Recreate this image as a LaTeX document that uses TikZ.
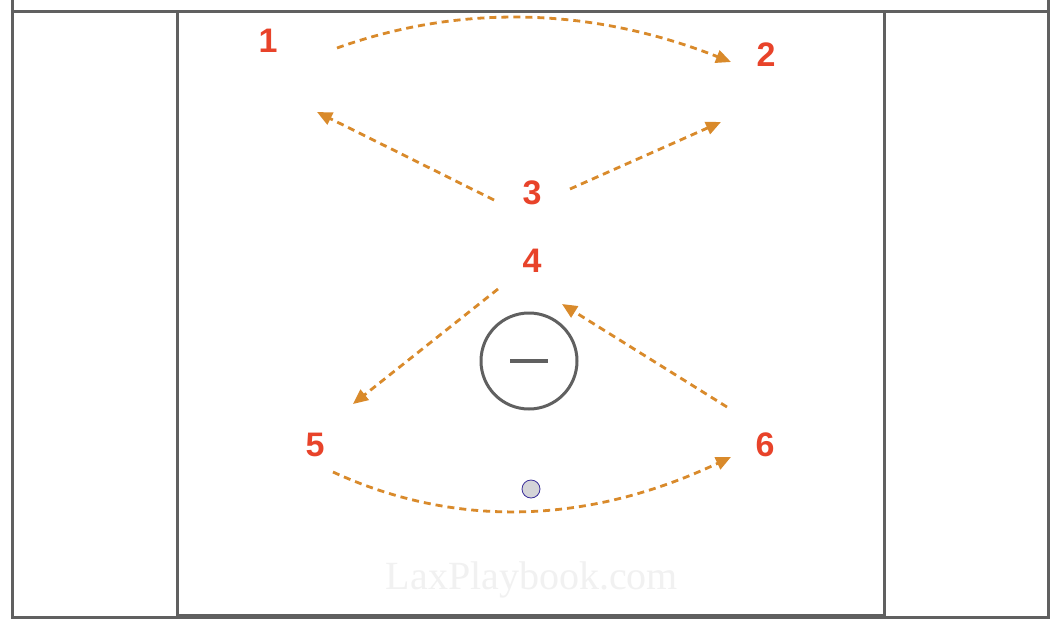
\documentclass[tikz,border=0pt]{standalone}
\usepackage{fontspec}
\setmainfont{Liberation Sans}
\newfontfamily\markfont{Liberation Serif}
\usetikzlibrary{arrows.meta}
\definecolor{linegray}{HTML}{606060}
\definecolor{playerred}{HTML}{E8432A}
\definecolor{passorange}{HTML}{D98A2B}
\definecolor{markgray}{HTML}{F1F1F1}
\definecolor{balledge}{HTML}{3A2E9A}
\definecolor{ballfill}{HTML}{D4D4D8}

\begin{document}
\begin{tikzpicture}[
      x=1pt, y=-1pt,
      every node/.style={inner sep=0pt},
      field/.style={draw=linegray, line width=3pt},
      player/.style={text=playerred, font=\fontsize{34}{34}\selectfont\bfseries},
      pass/.style={draw=passorange, line width=2.8pt, dash pattern=on 7pt off 5pt,
        -{Triangle[length=15pt,width=13pt]}},
      goalie/.style={circle, draw=linegray, line width=3pt, minimum size=96pt},
      ball/.style={circle, draw=balledge, fill=ballfill, line width=0.8pt, minimum size=18pt}
    ]
      \useasboundingbox (0,0) rectangle (1058,630);
      \fill[white] (0,0) rectangle (1058,630);
      \node[text=markgray, font=\markfont\fontsize{40}{40}\selectfont] (mark) at (532,580) {LaxPlaybook.com};
      \draw[field] (12,0) -- (12,617) -- (1048,617) -- (1048,0);
      \draw[field] (12,11) -- (1048,11);
      \draw[field] (177,11) rectangle (884,615);

      \node[player] (p1) at (268,41) {1};
      \node[player] (p2) at (766,55) {2};
      \node[player] (p3) at (532,193) {3};
      \node[player] (p4) at (532,261) {4};
      \node[player] (p5) at (315,445) {5};
      \node[player] (p6) at (765,445) {6};

      \node[goalie] (goal) at (529,361) {};
      \draw[draw=linegray, line width=4pt] ([xshift=-19pt]goal.center) -- ([xshift=19pt]goal.center);
      \node[ball] (ball) at (531,489) {};

      \coordinate (p1out) at (337,48);
      \coordinate (p2in) at (731,62);
      \coordinate (p3left) at (494,200);
      \coordinate (p1in) at (317,112);
      \coordinate (p3right) at (570,189);
      \coordinate (p2low) at (721,122);
      \coordinate (p4out) at (498,289);
      \coordinate (p5in) at (353,404);
      \coordinate (p6out) at (727,407);
      \coordinate (p4in) at (562,304);
      \coordinate (p5out) at (333,472);
      \coordinate (p6in) at (731,457);

      \draw[pass] (p1out) .. controls (463,3) and (594,8) .. (p2in);
      \draw[pass] (p3left) -- (p1in);
      \draw[pass] (p3right) -- (p2low);
      \draw[pass] (p4out) -- (p5in);
      \draw[pass] (p6out) -- (p4in);
      \draw[pass] (p5out) .. controls (457,529) and (589,524) .. (p6in);
    \end{tikzpicture}
\end{document}
